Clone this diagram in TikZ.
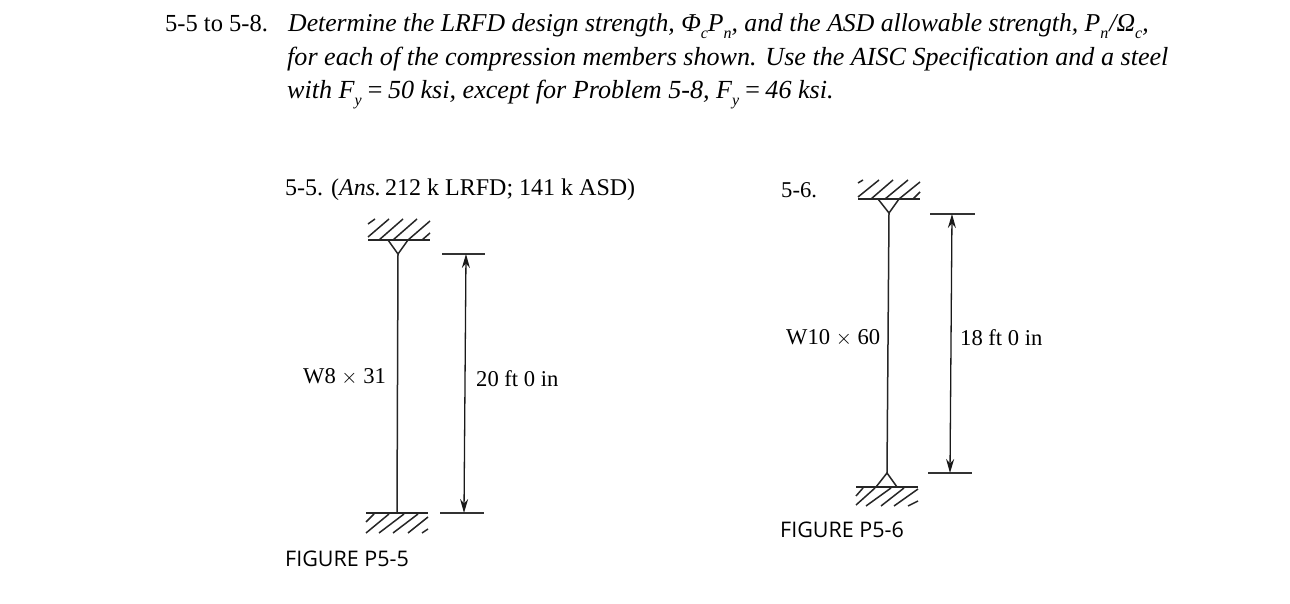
\documentclass[tikz,border=0pt]{standalone}
\usepackage{fontspec}
\setmainfont{Liberation Serif}
\newfontfamily\figfont{Open Sans}
\usetikzlibrary{arrows.meta}
\newcommand{\sbs}[1]{\raisebox{-0.25em}{\fontsize{16}{16}\selectfont #1}}
\tikzset{
  x=1pt,y=-1pt,
  head/.style={anchor=base west,inner sep=0pt,font=\fontsize{26.1}{28}\selectfont},
  headone/.style={anchor=base west,inner sep=0pt,font=\fontsize{25.7}{28}\selectfont},
  headnum/.style={anchor=base west,inner sep=0pt,font=\fontsize{24.5}{28}\selectfont},
  lab/.style={anchor=base west,inner sep=0pt,font=\fontsize{22.6}{26}\selectfont},
  ans/.style={anchor=base west,inner sep=0pt,font=\fontsize{24}{26}\selectfont},
  figlab/.style={anchor=base west,inner sep=0pt,font=\figfont\fontsize{21.5}{24}\selectfont},
  member/.style={line width=1.5pt,black!85},
  ground/.style={line width=1.5pt,black!85},
  hatch/.style={line width=1.5pt,black!85},
  tick/.style={line width=1.2pt,black!80},
  dim/.style={line width=1.3pt,black!90,{Stealth[length=14pt,width=8pt]}-{Stealth[length=14pt,width=8pt]}}
}
\begin{document}
\begin{tikzpicture}
\useasboundingbox (0,0) rectangle (1290,604);
\fill[white] (0,0) rectangle (1290,604);
% heading
\node[headnum] (h0) at (165,32) {5-5 to 5-8.};
\node[headone] (h1) at (288,32) {\itshape Determine the LRFD design strength, Φ\sbs{c}P\sbs{n}, and the ASD allowable strength, P\sbs{n}\kern1pt/Ω\sbs{c},};
\node[head] (h2) at (287,66) {\itshape for each of the compression members shown. Use the AISC Specification and a steel};
\node[head] (h3) at (287,99) {\itshape with F\sbs{y}\,=\,50 ksi, except for Problem 5-8, F\sbs{y}\,=\,46 ksi.};
% labels
\node[ans] (t5) at (285,196) {5-5. (\textit{Ans.}\,212 k LRFD; 141 k ASD)};
\node[lab] (t6) at (781,197) {5-6.};
\node[lab] (w1) at (303,383) {W8 $\times$ 31};
\node[lab] (d1) at (476,386) {20 ft 0 in};
\node[lab] (w2) at (786,344) {W10 $\times$ 60};
\node[lab] (d2) at (960,345) {18 ft 0 in};
\node[figlab] (f1) at (285,566) {FIGURE P5-5};
\node[figlab] (f2) at (780,537) {FIGURE P5-6};
% figure 5-5
\coordinate (a1) at (368,240); \coordinate (a2) at (430,240);
\coordinate (a3) at (388,240); \coordinate (a4) at (398,254); \coordinate (a5) at (408,240);
\coordinate (a6) at (397,513); \coordinate (a7) at (366,513); \coordinate (a8) at (428,513);
\draw[ground] (a1) -- (a2);
\draw[member] (a3) -- (a4) -- (a5);
\draw[member] (a4) -- (a6);
\draw[ground] (a7) -- (a8);
\foreach \xa/\ya/\xb/\yb in {368/224/375/219,368/237/389/219,379/240/403/219,393/240/417/219,408/240/430/221,422/240/430/233}
  \draw[hatch] (\xa,\ya) -- (\xb,\yb);
\foreach \xa/\ya/\xb/\yb in {366/522/374/514,366/533/389/514,379/533/404/514,393/533/418/514,408/533/428/517,422/533/428/529}
  \draw[hatch] (\xa,\ya) -- (\xb,\yb);
\coordinate (b1) at (442,254); \coordinate (b2) at (485,254);
\coordinate (b3) at (440,513); \coordinate (b4) at (484,513);
\draw[tick] (b1) -- (b2);
\draw[tick] (b3) -- (b4);
\draw[dim] (466,254) -- (464,513);
% figure 5-6
\coordinate (c1) at (858,199); \coordinate (c2) at (920,199);
\coordinate (c3) at (878,199); \coordinate (c4) at (889,213); \coordinate (c5) at (899,199);
\coordinate (c6) at (887,473); \coordinate (c7) at (876,487); \coordinate (c8) at (897,487);
\coordinate (c9) at (856,487); \coordinate (c10) at (918,487);
\draw[ground] (c1) -- (c2);
\draw[member] (c3) -- (c4) -- (c5);
\draw[member] (c4) -- (c6);
\draw[member] (c7) -- (c6) -- (c8);
\draw[ground] (c9) -- (c10);
\foreach \xa/\ya/\xb/\yb in {858/183/863/180,858/197/879/180,871/199/893/180,885/199/908/180,899/199/920/182,913/199/920/192}
  \draw[hatch] (\xa,\ya) -- (\xb,\yb);
\foreach \xa/\ya/\xb/\yb in {856/496/863/488,856/505/875/488,866/506/891/488,881/506/904/488,894/506/918/489,908/506/918/501}
  \draw[hatch] (\xa,\ya) -- (\xb,\yb);
\coordinate (e1) at (930,214); \coordinate (e2) at (975,214);
\coordinate (e3) at (928,473); \coordinate (e4) at (972,473);
\draw[tick] (e1) -- (e2);
\draw[tick] (e3) -- (e4);
\draw[dim] (952,214) -- (950,473);
\end{tikzpicture}
\end{document}
